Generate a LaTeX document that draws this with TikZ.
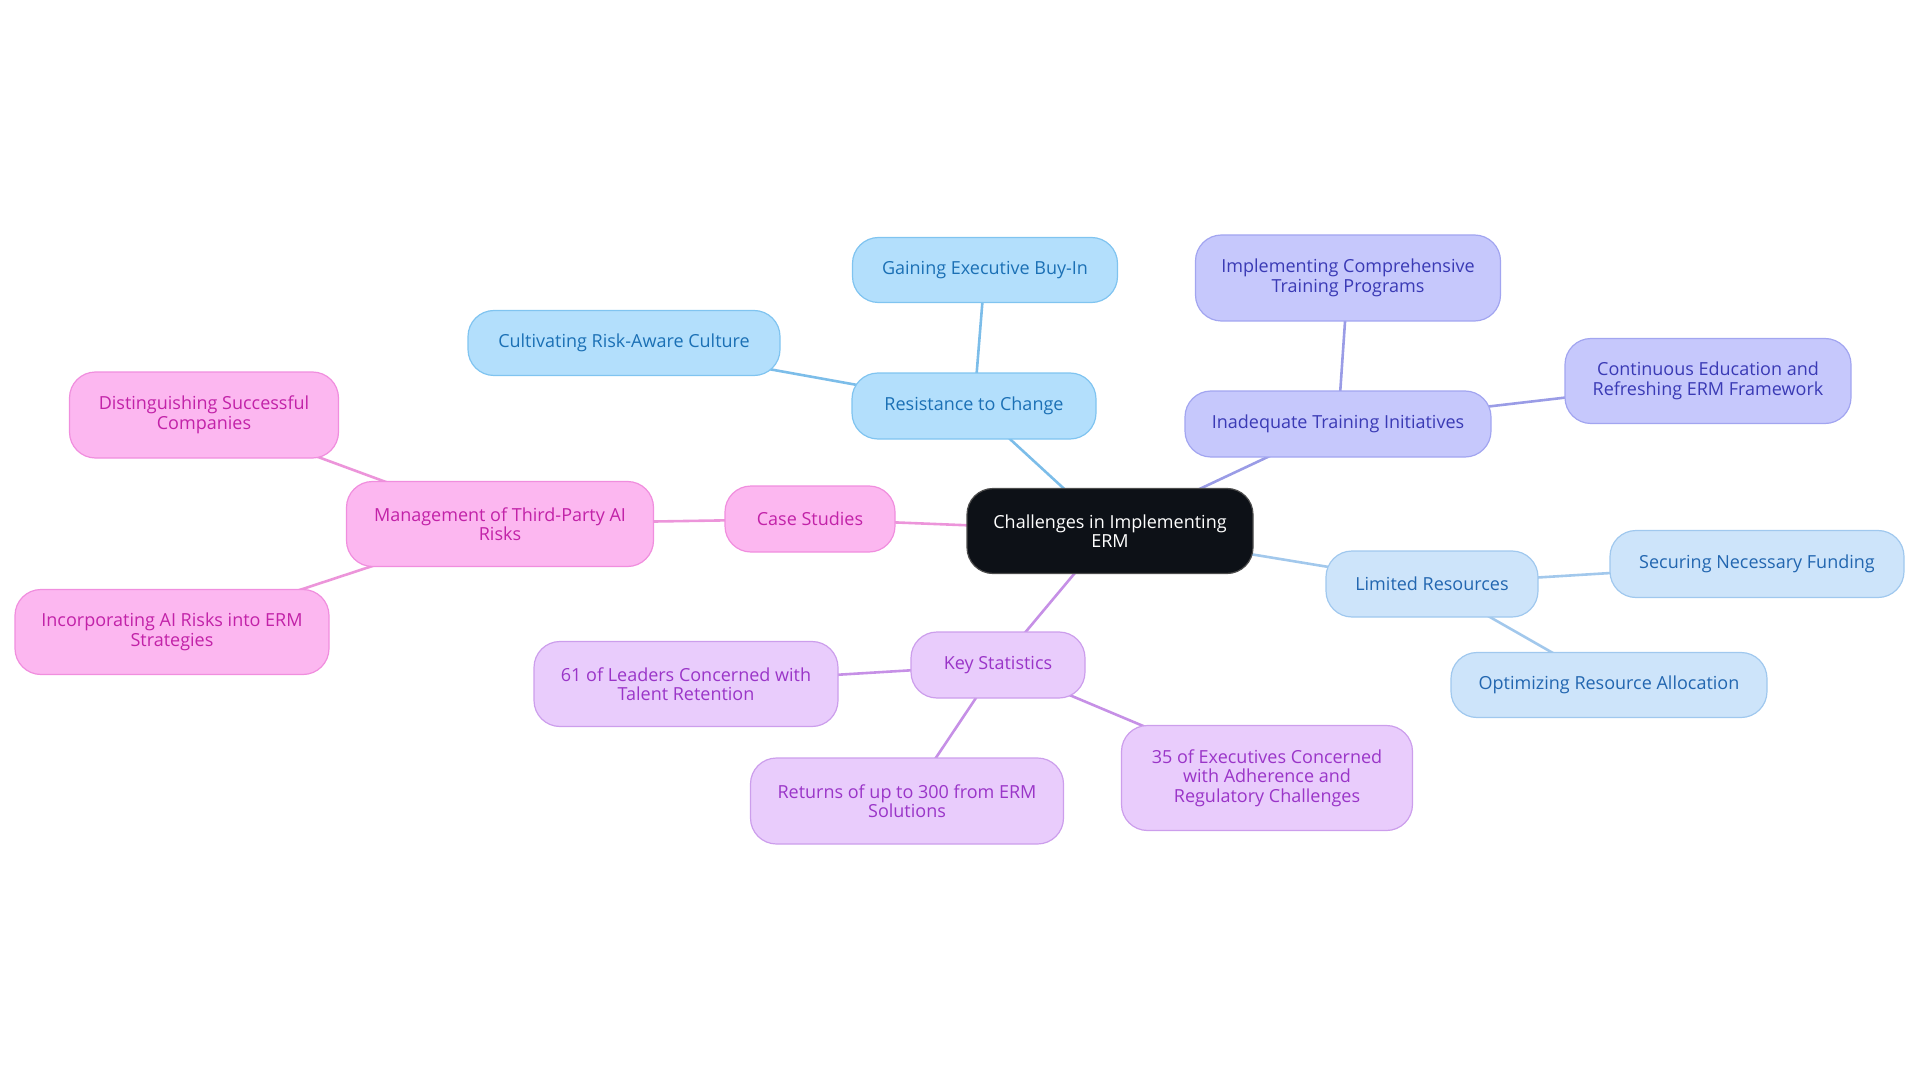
\documentclass[tikz,border=0pt]{standalone}
\usepackage{fontspec}
\setmainfont{Open Sans}
\usetikzlibrary{backgrounds}
\definecolor{cdark}{HTML}{0D1117}
\definecolor{bfill}{HTML}{B3DFFC}\definecolor{bdraw}{HTML}{80C4F0}\definecolor{btext}{HTML}{1B70B5}\definecolor{bline}{HTML}{7CBDE9}
\definecolor{pfill}{HTML}{C6C8FC}\definecolor{pdraw}{HTML}{A2A5F0}\definecolor{ptext}{HTML}{3A3AB5}\definecolor{pline}{HTML}{9A9CE6}
\definecolor{lfill}{HTML}{CDE4FA}\definecolor{ldraw}{HTML}{A0C8EE}\definecolor{ltext}{HTML}{2266B0}\definecolor{lline}{HTML}{A2C8EC}
\definecolor{kfill}{HTML}{E9CCFC}\definecolor{kdraw}{HTML}{CC9EEC}\definecolor{ktext}{HTML}{9A35C8}\definecolor{kline}{HTML}{C690E6}
\definecolor{cfill}{HTML}{FCB7F0}\definecolor{cdraw}{HTML}{F08EDE}\definecolor{ctext}{HTML}{C222A8}\definecolor{cline}{HTML}{EC95DA}
\tikzset{
  box/.style={rounded corners=26pt, line width=1.2pt, align=center, font=\fontsize{18}{19.5}\selectfont, inner sep=0pt},
  bl/.style={box, fill=bfill, draw=bdraw, text=btext},
  pu/.style={box, fill=pfill, draw=pdraw, text=ptext},
  lb/.style={box, fill=lfill, draw=ldraw, text=ltext},
  ks/.style={box, fill=kfill, draw=kdraw, text=ktext},
  cs/.style={box, fill=cfill, draw=cdraw, text=ctext},
  sz/.style 2 args={minimum width=#1pt, minimum height=#2pt},
  conn/.style={line width=2.6pt}
}
\begin{document}
\begin{tikzpicture}[x=1pt,y=-1pt]
\useasboundingbox (0,0) rectangle (1920,1083);
\node[box, fill=cdark, draw=gray!60!black, text=white, sz={286}{85}] (c) at (1110,531) {Challenges in Implementing\\ERM};
\node[bl, sz={244}{66}] (res) at (974,406) {Resistance to Change};
\node[bl, sz={265}{65}] (gain) at (985,270) {Gaining Executive Buy-In};
\node[bl, sz={312}{65}] (cult) at (624,343) {Cultivating Risk-Aware Culture};
\node[pu, sz={305}{86}] (impl) at (1348,278) {Implementing Comprehensive\\Training Programs};
\node[pu, sz={306}{66}] (inad) at (1338,424) {Inadequate Training Initiatives};
\node[pu, sz={286}{85}] (cont) at (1708,381) {Continuous Education and\\Refreshing ERM Framework};
\node[lb, sz={212}{66}] (lim) at (1432,584) {Limited Resources};
\node[lb, sz={294}{67}] (sec) at (1757,564) {Securing Necessary Funding};
\node[lb, sz={316}{65}] (opt) at (1609,685) {Optimizing Resource Allocation};
\node[ks, sz={174}{66}] (key) at (998,665) {Key Statistics};
\node[ks, sz={304}{85}] (lead) at (686,684) {61 of Leaders Concerned with\\Talent Retention};
\node[ks, sz={313}{86}] (ret) at (907,801) {Returns of up to 300 from ERM\\Solutions};
\node[ks, sz={291}{105}] (exec) at (1267,778) {35 of Executives Concerned\\with Adherence and\\Regulatory Challenges};
\node[cs, sz={170}{66}] (case) at (810,519) {Case Studies};
\node[cs, sz={307}{85}] (mgmt) at (500,524) {Management of Third-Party AI\\Risks};
\node[cs, sz={269}{86}] (dist) at (204,415) {Distinguishing Successful\\Companies};
\node[cs, sz={314}{85}] (inc) at (172,632) {Incorporating AI Risks into ERM\\Strategies};
\begin{scope}[on background layer]
\draw[conn, bline] (c.center) -- (res.center);
\draw[conn, bline] (res.center) -- (gain.center);
\draw[conn, bline] (res.center) -- (cult.center);
\draw[conn, pline] (c.center) -- (inad.center);
\draw[conn, pline] (inad.center) -- (impl.center);
\draw[conn, pline] (inad.center) -- (cont.center);
\draw[conn, lline] (c.center) -- (lim.center);
\draw[conn, lline] (lim.center) -- (sec.center);
\draw[conn, lline] (lim.center) -- (opt.center);
\draw[conn, kline] (c.center) -- (key.center);
\draw[conn, kline] (key.center) -- (lead.center);
\draw[conn, kline] (key.center) -- (ret.center);
\draw[conn, kline] (key.center) -- (exec.center);
\draw[conn, cline] (c.center) -- (case.center);
\draw[conn, cline] (case.center) -- (mgmt.center);
\draw[conn, cline] (mgmt.center) -- (dist.center);
\draw[conn, cline] (mgmt.center) -- (inc.center);
\end{scope}
\end{tikzpicture}
\end{document}
